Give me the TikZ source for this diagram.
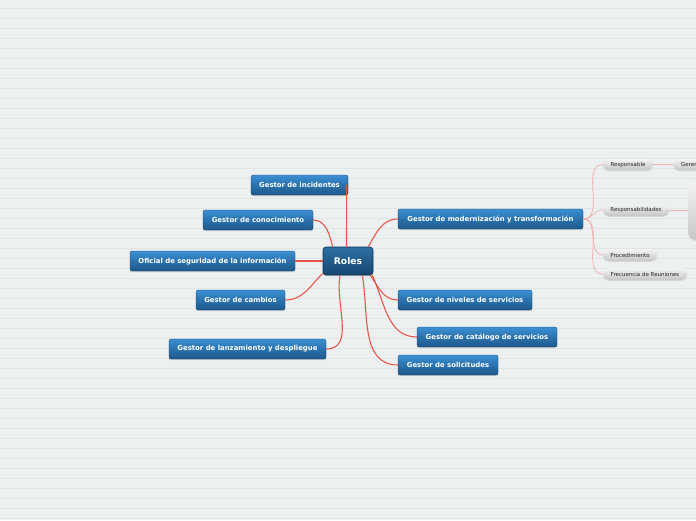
\documentclass[tikz,border=0pt]{standalone}
\usepackage{fontspec}
\setmainfont{DejaVu Sans}
\usetikzlibrary{positioning, shadows}

\definecolor{paper}{HTML}{ECF0F1}
\definecolor{ruling}{HTML}{E0E5E6}
\definecolor{topblue}{HTML}{3B90D4}
\definecolor{midblue}{HTML}{2A72AD}
\definecolor{lowblue}{HTML}{1E598B}
\definecolor{rootop}{HTML}{2D6FA2}
\definecolor{rootlow}{HTML}{164670}
\definecolor{rootline}{HTML}{0E3553}
\definecolor{branch}{HTML}{E9574A}
\definecolor{twig}{HTML}{F3B3AD}
\definecolor{pilltop}{HTML}{F4F4F4}
\definecolor{pilllow}{HTML}{C6C6C6}

\begin{document}
\begin{tikzpicture}[
    x=1pt, y=-1pt,
    rolebox/.style={
        rectangle,
        rounded corners=2pt,
        top color=topblue,
        bottom color=lowblue,
        middle color=midblue,
        draw=lowblue!80!black,
        line width=0.3pt,
        text=white,
        minimum height=20pt,
        inner xsep=6pt,
        font=\bfseries\fontsize{6.9}{8}\selectfont,
        drop shadow={opacity=0.25, shadow xshift=0pt, shadow yshift=-1.2pt}
    },
    rootbox/.style={
        rectangle,
        rounded corners=3pt,
        top color=rootop,
        bottom color=rootlow,
        draw=rootline,
        line width=0.6pt,
        text=white,
        minimum width=50pt,
        minimum height=28pt,
        font=\bfseries\fontsize{9.2}{11}\selectfont,
        drop shadow={opacity=0.3, shadow xshift=0pt, shadow yshift=-1.2pt}
    },
    pill/.style={
        rectangle,
        rounded corners=5.5pt,
        top color=pilltop,
        bottom color=pilllow,
        text=black!85,
        minimum height=11.5pt,
        inner xsep=6pt,
        inner ysep=1pt,
        font=\fontsize{5.5}{6.5}\selectfont,
        drop shadow={opacity=0.2, shadow xshift=0pt, shadow yshift=-1pt}
    },
    bigpill/.style={
        rectangle,
        rounded corners=8pt,
        top color=pilltop,
        bottom color=pilllow,
        minimum width=40pt,
        minimum height=60pt,
        drop shadow={opacity=0.2, shadow xshift=0pt, shadow yshift=-1pt}
    },
    branchline/.style={draw=branch, line width=1.1pt},
    twigline/.style={draw=twig, line width=0.8pt},
    gridline/.style={draw=ruling, line width=0.6pt}
]

% Paper
\clip (0,0) rectangle (696,520);
\fill[paper] (0,0) rectangle (696,520);
\foreach \y in {8.3,18.3,...,518.3}
    \draw[gridline] (0,\y) -- (696,\y);

% Root
\node[rootbox] (roles) at (348,261) {Roles};

% Left side
\node[rolebox, minimum width=97pt] (incid) at (299.5,185) {Gestor de incidentes};
\node[rolebox, minimum width=110pt] (conoc) at (258,220) {Gestor de conocimiento};
\node[rolebox, minimum width=165pt] (ofic) at (212.5,261) {Oficial de seguridad de la información};
\node[rolebox, minimum width=89pt] (cambios) at (240.5,300) {Gestor de cambios};
\node[rolebox, minimum width=157pt] (lanz) at (247.5,349) {Gestor de lanzamiento y despliegue};

% Right side
\node[rolebox, minimum width=185pt] (moder) at (490.5,219) {Gestor de modernización y transformación};
\node[rolebox, minimum width=134pt] (nivel) at (465,300) {Gestor de niveles de servicios};
\node[rolebox, minimum width=140pt] (catal) at (487,337) {Gestor de catálogo de servicios};
\node[rolebox, minimum width=100pt] (solic) at (448,365) {Gestor de solicitudes};

% Details of modernizacion
\node[pill, minimum width=50pt] (resp) at (628,164.5) {Responsable};
\node[pill, minimum width=40pt, right=20pt of resp] (geren) {Gerencia};
\node[pill, minimum width=66pt] (respons) at (636,210) {Responsabilidades};
\node[bigpill, anchor=west] (lista) at (688,210) {};
\node[pill, minimum width=54pt] (proced) at (630,255) {Procedimiento};
\node[pill, minimum width=84pt] (frec) at (645,274) {Frecuencia de Reuniones};

% Branches
\draw[branchline] ([xshift=-1.5pt]incid.east) -- ([xshift=-1.5pt]roles.north);
\draw[branchline] (conoc.east) to[out=0,in=105] ([xshift=10pt]roles.north west);
\draw[branchline] (ofic.east) -- (roles.west);
\draw[branchline] (cambios.east) to[out=0,in=225] ([yshift=2pt]roles.south west);
\draw[branchline] (lanz.east) to[out=0,in=260] ([xshift=-8pt]roles.south);
\draw[branchline] ([xshift=-5pt]roles.north east) to[out=60,in=180] (moder.west);
\draw[branchline] ([xshift=-3pt]roles.south east) to[out=-55,in=180] (nivel.west);
\draw[branchline] ([xshift=-1pt]roles.south east) to[out=-65,in=180] (catal.west);
\draw[branchline] ([xshift=-11pt]roles.south east) to[out=-80,in=180] (solic.west);

% Twigs
\draw[twigline] (moder.east) to[out=0,in=180] (resp.west);
\draw[twigline] (moder.east) to[out=0,in=180] (respons.west);
\draw[twigline] (moder.east) to[out=0,in=180] (proced.west);
\draw[twigline] (moder.east) to[out=0,in=180] (frec.west);
\draw[twigline] (resp.east) -- (geren.west);
\draw[twigline] (respons.east) -- (lista.west);

\end{tikzpicture}
\end{document}
